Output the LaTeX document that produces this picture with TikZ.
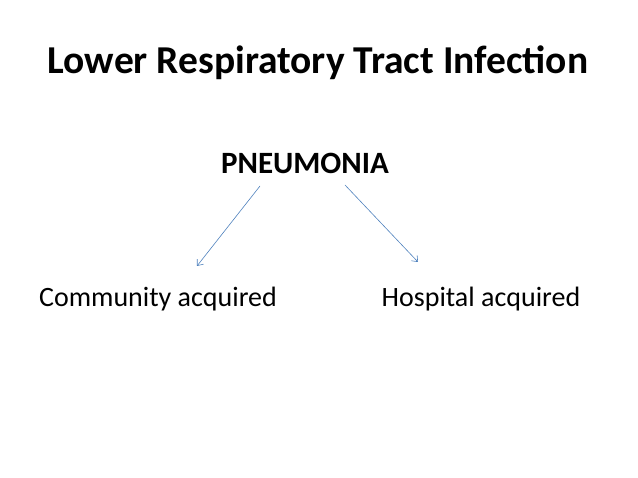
\documentclass[tikz,border=0pt]{standalone}
\usepackage{fontspec}
\setmainfont{Carlito}
\definecolor{arrowblue}{RGB}{79,129,189}
\tikzset{
  heading/.style = {font=\fontsize{39.5}{46}\selectfont\bfseries, inner sep=0pt},
  label/.style   = {font=\fontsize{28}{34}\selectfont, inner sep=0pt},
  branch/.style  = {draw=arrowblue, line width=0.6pt, -{Straight Barb[length=5pt,width=8pt]}}
}
\usetikzlibrary{arrows.meta}
\begin{document}
\begin{tikzpicture}[x=1pt, y=-1pt]
    \useasboundingbox (0,0) rectangle (638,478);
    % place nodes
    \node [heading] (title) at (318,63) {Lower Respiratory Tract Infection};
    \node [label, font=\fontsize{31}{37}\selectfont\bfseries] (pneumonia) at (305,163) {PNEUMONIA};
    \node [label] (community) at (158,299) {Community acquired};
    \node [label] (hospital) at (481,299) {Hospital acquired};
    \coordinate (leftstart) at (260,186);
    \coordinate (leftend) at (197,266);
    \coordinate (rightstart) at (345,185);
    \coordinate (rightend) at (418,262);
    % draw edges
    \draw [branch] (leftstart) -- (leftend);
    \draw [branch] (rightstart) -- (rightend);
\end{tikzpicture}
\end{document}
